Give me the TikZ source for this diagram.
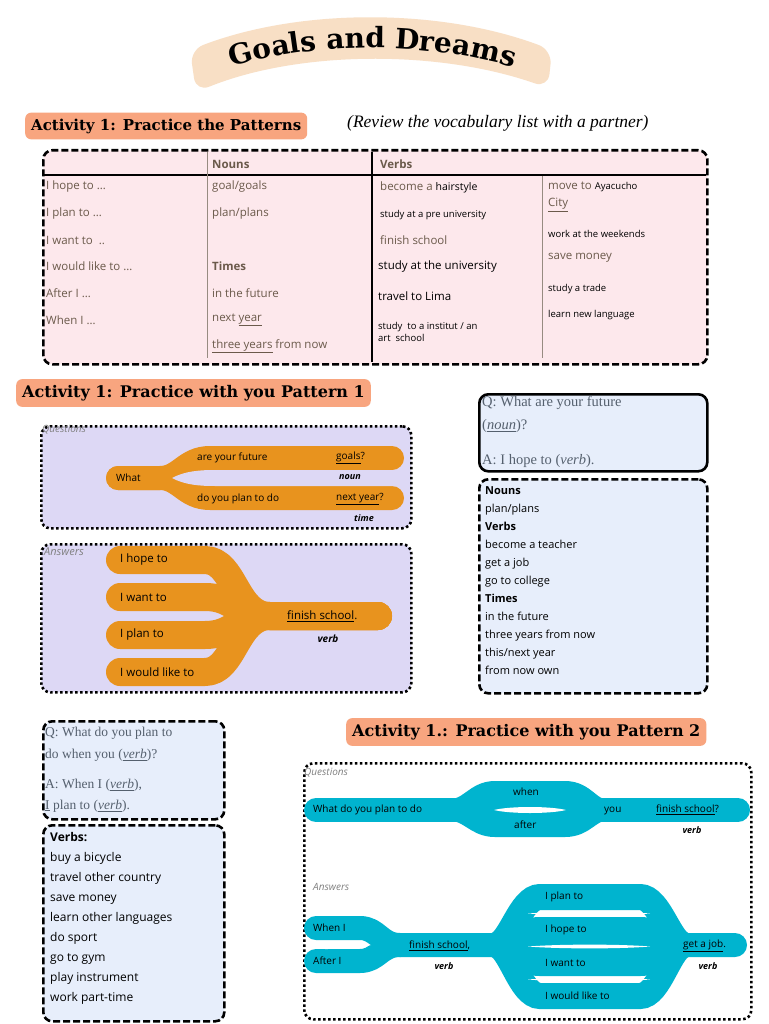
\documentclass[tikz,border=0pt]{standalone}
\usepackage{fontspec}
\setmainfont{Open Sans}
\newfontfamily\qserif{Liberation Serif}
\newfontfamily\lblfont{DejaVu Serif}
\newfontfamily\titlefont{DejaVu Serif}
\usetikzlibrary{decorations.text}
\definecolor{orng}{HTML}{E8931E}
\definecolor{cyn}{HTML}{00B4CF}
\definecolor{lav}{HTML}{DDD8F5}
\definecolor{pinkbg}{HTML}{FDE8EC}
\definecolor{lblue}{HTML}{E7EEFB}
\definecolor{salmon}{HTML}{F8A57F}
\definecolor{tbg}{HTML}{F8DFC5}
\definecolor{brn}{HTML}{6B5A4B}
\definecolor{qgray}{HTML}{55606E}
\tikzset{
 tx/.style={anchor=west,inner sep=0pt,font=\fontsize{11.5}{13}\selectfont},
 btx/.style={tx,text=brn},
 sm/.style={anchor=west,inner sep=0pt,font=\fontsize{9.5}{12}\selectfont},
 lbl/.style={fill=salmon,rounded corners=6pt,inner xsep=6pt,inner ysep=6pt,font=\fontsize{16}{18}\selectfont\bfseries\lblfont},
 dbox/.style={draw=black,line width=2.6pt,dash pattern=on 7pt off 3pt,rounded corners=9pt},
 obox/.style={draw=black,line width=2.6pt,dash pattern=on 2.5pt off 2.5pt,rounded corners=9pt},
 rib/.style={line cap=round,line join=round},
 pl/.style={anchor=west,inner sep=0pt,font=\fontsize{10}{12}\selectfont},
 it/.style={anchor=west,inner sep=0pt,font=\fontsize{10}{12}\selectfont\itshape,text=gray},
 vb/.style={inner sep=0pt,font=\fontsize{9}{11}\selectfont\bfseries\itshape},
 qt/.style={anchor=west,inner sep=0pt,font=\fontsize{14.5}{16}\selectfont\qserif,text=qgray},
 ls/.style={anchor=west,inner sep=0pt,font=\fontsize{11}{18}\selectfont,align=left}
}
\begin{document}
\begin{tikzpicture}[x=1pt,y=-1pt]
\useasboundingbox (0,0) rectangle (768,1024);
\fill[white] (0,0) rectangle (768,1024);
% title
\fill[tbg,rounded corners=14pt] (190,50) .. controls (300,8) and (440,8) .. (552,50) -- (548,88) .. controls (440,50) and (300,50) .. (196,92) -- cycle;
\path[decorate,decoration={text along path,text align=center,text={|\fontsize{28}{28}\selectfont\bfseries\titlefont|Goals and Dreams}}] (200,78) .. controls (300,38) and (440,38) .. (545,78);
\node[coordinate] (titlec) at (371,55) {};
% activity 1 table
\node[lbl,anchor=west,font=\fontsize{15}{17}\selectfont\bfseries\lblfont] (a1) at (25,126) {Activity 1: Practice the Patterns};
\node[anchor=west,inner sep=0pt,font=\fontsize{17.5}{19}\selectfont\itshape\qserif] (rev) at (347,123) {(Review the vocabulary list with a partner)};
\node[dbox,fill=pinkbg,minimum width=664pt,minimum height=214pt,anchor=north west] (tbl) at (42,149) {};
\draw[black,line width=1.2pt] (44,175) -- (706,175);
\draw[brn!70,line width=0.5pt] (207,152) -- (207,358);
\draw[black,line width=1.5pt] (372,152) -- (372,362);
\draw[brn!70,line width=0.5pt] (542,176) -- (542,358);
\node[btx,font=\fontsize{11.5}{13}\selectfont\bfseries] (hn) at (212,164) {Nouns};
\node[btx,font=\fontsize{11.5}{13}\selectfont\bfseries] (hv) at (380,164) {Verbs};
\node[btx] (r1) at (46,187) {I hope to \dots};
\node[btx] (r2) at (46,214) {I plan to \dots};
\node[btx] (r3) at (46,240) {I want to\ \ ..};
\node[btx] (r4) at (46,266) {I would like to \dots};
\node[btx] (r5) at (46,293) {After I \dots};
\node[btx] (r6) at (46,320) {When I \dots};
\node[btx] (n1) at (212,187) {goal/goals};
\node[btx] (n2) at (212,214) {plan/plans};
\node[btx,font=\fontsize{11.5}{13}\selectfont\bfseries] (n3) at (212,266) {Times};
\node[btx] (n4) at (212,293) {in the future};
\node[btx] (n5) at (212,320) {next \underline{year}};
\node[btx] (n6) at (212,346) {\underline{three years} from now};
\node[btx] (v1) at (380,187) {become a \textcolor{black}{\fontsize{10.5}{12}\selectfont hairstyle}};
\node[sm] (v2) at (380,215) {study at a pre university};
\node[btx] (v3) at (380,240) {finish school};
\node[tx] (v4) at (378,267) {study at the university};
\node[tx] (v5) at (378,296) {travel to Lima};
\node[sm,align=left] (v6) at (378,332) {study\ \ to a institut / an\\art\ \ school};
\node[btx] (w1) at (548,187) {move to \textcolor{black}{\fontsize{9.5}{11}\selectfont Ayacucho}};
\node[btx] (w1b) at (548,205) {\underline{City}};
\node[sm] (w2) at (548,234) {work at the weekends};
\node[btx] (w3) at (548,258) {save money};
\node[sm] (w4) at (548,289) {study a trade};
\node[sm] (w5) at (548,315) {learn new language};
% pattern 1
\node[lbl,anchor=west] (p1) at (16,393) {Activity 1: Practice with you Pattern 1};
\node[obox,fill=lav,minimum width=370pt,minimum height=102pt,anchor=north west] (qb) at (40,425) {};
\node[it] (qlab) at (42,430) {Questions};
\draw[orng,rib,line width=24pt] (118,478) -- (160,478) .. controls (180,478) and (185,458) .. (210,458) -- (392,458);
\draw[orng,rib,line width=24pt] (118,478) -- (160,478) .. controls (180,478) and (185,498) .. (210,498) -- (392,498);
\fill[lav] (172,478) .. controls (185,471) and (200,470) .. (215,470) -- (395,470) -- (395,486) -- (215,486) .. controls (200,486) and (185,485) .. (172,478);
\node[pl] (what) at (116,478) {What};
\node[pl] (ayf) at (197,458) {are your future};
\node[pl] (goals) at (336,458) {\underline{goals}?};
\node[vb] (noun) at (350,477) {noun};
\node[pl] (dyp) at (197,499) {do you plan to do};
\node[pl] (ny) at (336,499) {\underline{next year}?};
\node[vb] (time) at (364,518) {time};
\node[obox,fill=lav,minimum width=370pt,minimum height=148pt,anchor=north west] (ab) at (40,543) {};
\node[it,font=\fontsize{11}{13}\selectfont\itshape] (alab) at (44,552) {Answers};
\foreach \yy in {560,597,635,672}{
 \draw[orng,rib,line width=28pt] (120,\yy) -- (205,\yy) .. controls (235,\yy) and (235,616) .. (270,616) -- (378,616);
}
\node[pl,font=\fontsize{11.5}{13}\selectfont] (h1) at (120,560) {I hope to};
\node[pl,font=\fontsize{11.5}{13}\selectfont] (h2) at (120,597) {I want to};
\node[pl,font=\fontsize{11.5}{13}\selectfont] (h3) at (120,635) {I plan to};
\node[pl,font=\fontsize{11.5}{13}\selectfont] (h4) at (120,672) {I would like to};
\node[pl,font=\fontsize{11.5}{13}\selectfont] (fs) at (287,616) {\underline{finish school}.};
\node[vb,font=\fontsize{10}{12}\selectfont\bfseries\itshape] (verb1) at (328,639) {verb};
% right Q box
\node[draw=black,line width=2.6pt,rounded corners=9pt,fill=lblue,minimum width=228pt,minimum height=77pt,anchor=north west] (rq) at (478,393) {};
\node[qt] (rq1) at (482,403) {Q: What are your future};
\node[qt] (rq2) at (482,426) {(\underline{\itshape noun})?};
\node[qt] (rq3) at (482,461) {A: I hope to (\textit{verb}).};
\node[dbox,fill=lblue,minimum width=228pt,minimum height=214pt,anchor=north west] (rn) at (478,478) {};
\node[ls,anchor=north west] (rnl) at (485,486) {\textbf{Nouns}\\plan/plans\\\textbf{Verbs}\\become a teacher\\get a job\\go to college\\\textbf{Times}\\in the future\\three years from now\\this/next year\\from now own};
% left Q box
\node[dbox,fill=lblue,minimum width=181pt,minimum height=98pt,anchor=north west] (lq) at (42,720) {};
\node[qt,font=\fontsize{13.5}{15}\selectfont\qserif] (lq1) at (45,733) {Q: What do you plan to};
\node[qt,font=\fontsize{13.5}{15}\selectfont\qserif] (lq2) at (45,755) {do when you (\underline{\itshape verb})?};
\node[qt,font=\fontsize{13.5}{15}\selectfont\qserif] (lq3) at (45,785) {A: When I (\underline{\itshape verb}),};
\node[qt,font=\fontsize{13.5}{15}\selectfont\qserif] (lq4) at (45,806) {\underline{I} plan to (\underline{\itshape verb}).};
\node[dbox,fill=lblue,minimum width=181pt,minimum height=196pt,anchor=north west] (lv) at (42,824) {};
\node[ls,anchor=north west,font=\fontsize{12}{20}\selectfont] (lvl) at (50,832) {\textbf{Verbs:}\\buy a bicycle\\travel other country\\save money\\learn other languages\\do sport\\go to gym\\play instrument\\work part-time};
% pattern 2
\node[lbl,anchor=west] (p2) at (346,732) {Activity 1.: Practice with you Pattern 2};
\node[obox,fill=white,minimum width=447pt,minimum height=256pt,anchor=north west] (p2b) at (303,762) {};
\node[it] (q2lab) at (304,773) {Questions};
\draw[cyn,rib,line width=24pt] (316,810) -- (738,810);
\draw[cyn,rib,line width=22pt] (450,810) .. controls (470,810) and (475,792) .. (495,792) -- (565,792) .. controls (585,792) and (590,810) .. (605,810);
\draw[cyn,rib,line width=22pt] (450,810) .. controls (470,810) and (475,826) .. (495,826) -- (565,826) .. controls (585,826) and (590,810) .. (605,810);
\fill[white] (494,810) .. controls (510,806) and (550,806) .. (566,810) .. controls (550,814) and (510,814) .. cycle;
\node[pl] (q2a) at (313,810) {What do you plan to do};
\node[pl] (when) at (513,792) {when};
\node[pl] (after) at (514,825) {after};
\node[pl] (you) at (604,811) {you};
\node[pl] (fs2) at (656,810) {\underline{finish school}?};
\node[vb] (verb2) at (692,830) {verb};
\node[it] (a2lab) at (313,887) {Answers};
\draw[cyn,rib,line width=24pt] (316,928) -- (360,928) .. controls (378,928) and (380,945) .. (400,945) -- (735,945);
\draw[cyn,rib,line width=24pt] (316,961) -- (360,961) .. controls (378,961) and (380,945) .. (400,945);
\fill[white] (371,945) .. controls (360,942) and (340,941) .. (325,941) -- (325,949) .. controls (340,949) and (360,948) .. cycle;
\foreach \yy in {897,930,963,996}{
 \draw[cyn,line width=26pt] (495,945) .. controls (510,945) and (520,\yy) .. (540,\yy) -- (640,\yy) .. controls (660,\yy) and (670,945) .. (685,945);
}
\foreach \yy in {913.5,946.5,979.5}{
 \fill[white] (528,\yy) .. controls (560,\yy-2.5) and (620,\yy-2.5) .. (650,\yy) .. controls (620,\yy+2.5) and (560,\yy+2.5) .. cycle;
}
\node[pl] (wi) at (313,928) {When I};
\node[pl] (ai) at (313,961) {After I};
\node[pl] (fs3) at (409,946) {\underline{finish school},};
\node[vb] (verb3) at (444,966) {verb};
\node[pl] (o1) at (545,897) {I plan to};
\node[pl] (o2) at (545,930) {I hope to};
\node[pl] (o3) at (545,963) {I want to};
\node[pl] (o4) at (545,996) {I would like to};
\node[pl] (gj) at (683,946) {\underline{get a job}.};
\node[vb] (verb4) at (708,966) {verb};
\end{tikzpicture}
\end{document}
